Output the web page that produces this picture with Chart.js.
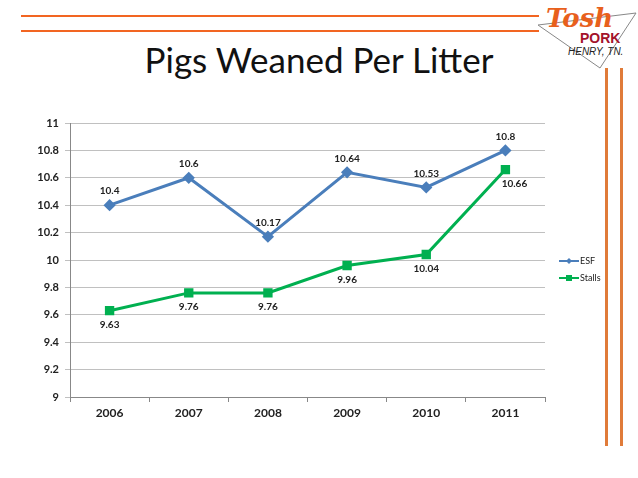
<!DOCTYPE html>
<html><head><meta charset="utf-8">
<script src="https://cdn.jsdelivr.net/npm/chart.js@4/dist/chart.umd.min.js"></script>
<style>
html,body{margin:0;padding:0;background:#fff;}
#wrap{position:relative;width:638px;height:478px;overflow:hidden;font-family:Lato,"Open Sans",sans-serif;}
.h{position:absolute;height:2px;background:#f26522;}
.v{position:absolute;width:3px;background:#e07b39;}
#title{position:absolute;left:0;width:638px;top:38px;text-align:center;font-size:35px;color:#111;font-family:Lato,"Open Sans",sans-serif;}
#c{position:absolute;left:0;top:0;}
</style></head><body>
<div id="wrap">
<div class="h" style="left:21px;width:518px;top:15px"></div>
<div class="h" style="left:21px;width:518px;top:30px"></div>
<div class="v" style="left:605px;top:68px;height:378px"></div>
<div class="v" style="left:620px;top:68px;height:378px"></div>
<svg style="position:absolute;left:530px;top:0" width="108" height="72">
<polyline points="8,25 106,13" fill="none" stroke="#888" stroke-width="1"/>
<polyline points="8,25 70,68 106,13" fill="none" stroke="#888" stroke-width="1"/>
<text x="16" y="27" font-family="DejaVu Serif,serif" font-style="italic" font-weight="bold" font-size="26" fill="#e8601c">Tosh</text>
<text x="50" y="43" font-family="Liberation Sans,Arial" font-weight="bold" font-size="14" fill="#a3122a">PORK</text>
<text x="38" y="55" font-family="Liberation Sans,Arial" font-style="italic" font-size="10" fill="#222">HENRY, TN.</text>
</svg>
<div id="title">Pigs Weaned Per Litter</div>
<canvas id="c" width="638" height="478"></canvas>
</div>
<script>
const years = ["2006","2007","2008","2009","2010","2011"];
const esf = [10.4,10.6,10.17,10.64,10.53,10.8];
const stalls = [9.63,9.76,9.76,9.96,10.04,10.66];
const seriesNames = ["ESF","Stalls"];

const labelPlugin = {
  id:'labels',
  afterDatasetsDraw(chart){
    const ctx = chart.ctx;
    ctx.save();
    ctx.font = 'bold 10px Lato, "Open Sans", sans-serif';
    ctx.fillStyle = '#222';
    ctx.textAlign = 'center';
    ctx.textBaseline = 'middle';
    chart.data.datasets.forEach((ds,di)=>{
      const meta = chart.getDatasetMeta(di);
      meta.data.forEach((pt,i)=>{
        const dy = di===0 ? -14 : 14;
        ctx.fillText(String(ds.data[i]), pt.x + (di===1 && i===5 ? 9 : 0), pt.y + dy);
      });
    });
    const ca = chart.chartArea;
    const lx = ca.right + 14, ys=[ca.top+138, ca.top+155];
    chart.data.datasets.forEach((ds,di)=>{
      const y = ys[di];
      ctx.strokeStyle = ds.borderColor; ctx.lineWidth = 2;
      ctx.beginPath(); ctx.moveTo(lx,y); ctx.lineTo(lx+20,y); ctx.stroke();
      ctx.fillStyle = ds.borderColor;
      if(di===0){ ctx.beginPath(); ctx.moveTo(lx+10,y-3); ctx.lineTo(lx+13,y); ctx.lineTo(lx+10,y+3); ctx.lineTo(lx+7,y); ctx.closePath(); ctx.fill(); }
      else { ctx.fillRect(lx+7,y-3,6,6); }
      ctx.fillStyle = '#222'; ctx.font = '9px Lato, "Open Sans", sans-serif';
      ctx.textAlign='left';
      ctx.fillText(ds.label, lx+21, y);
    });
    ctx.restore();
  }
};

new Chart(document.getElementById('c'),{
  type:'line',
  data:{labels:years,datasets:[
    {label:seriesNames[0],data:esf,borderColor:'#4a7ebb',backgroundColor:'#4a7ebb',borderWidth:3,pointStyle:'rectRot',pointRadius:4,tension:0},
    {label:seriesNames[1],data:stalls,borderColor:'#00b050',backgroundColor:'#00b050',borderWidth:3,pointStyle:'rect',pointRadius:4.5,tension:0}
  ]},
  options:{
    responsive:false,animation:false,
    layout:{padding:{top:123,left:0,right:93,bottom:0}},
    plugins:{legend:{display:false},tooltip:{enabled:false},title:{display:false}},
    scales:{
      x:{offset:true,
        grid:{offset:true,drawOnChartArea:false,tickLength:5,color:'#888'},
        border:{color:'#888'},
        ticks:{font:{family:'Lato, "Open Sans", sans-serif',size:12,weight:'bold'},color:'#222',padding:4},
        afterFit(s){s.height=81;}
      },
      y:{min:9,max:11,
        grid:{color:'#c0c0c0',tickLength:5,lineWidth:1},
        border:{color:'#888'},
        ticks:{stepSize:0.2,font:{family:'Lato, "Open Sans", sans-serif',size:11,weight:'bold'},color:'#222',padding:6,
          callback:v=>Math.round(v*10)/10},
        afterFit(s){s.width=70;}
      }
    }
  },
  plugins:[labelPlugin]
});
</script>
</body></html>
